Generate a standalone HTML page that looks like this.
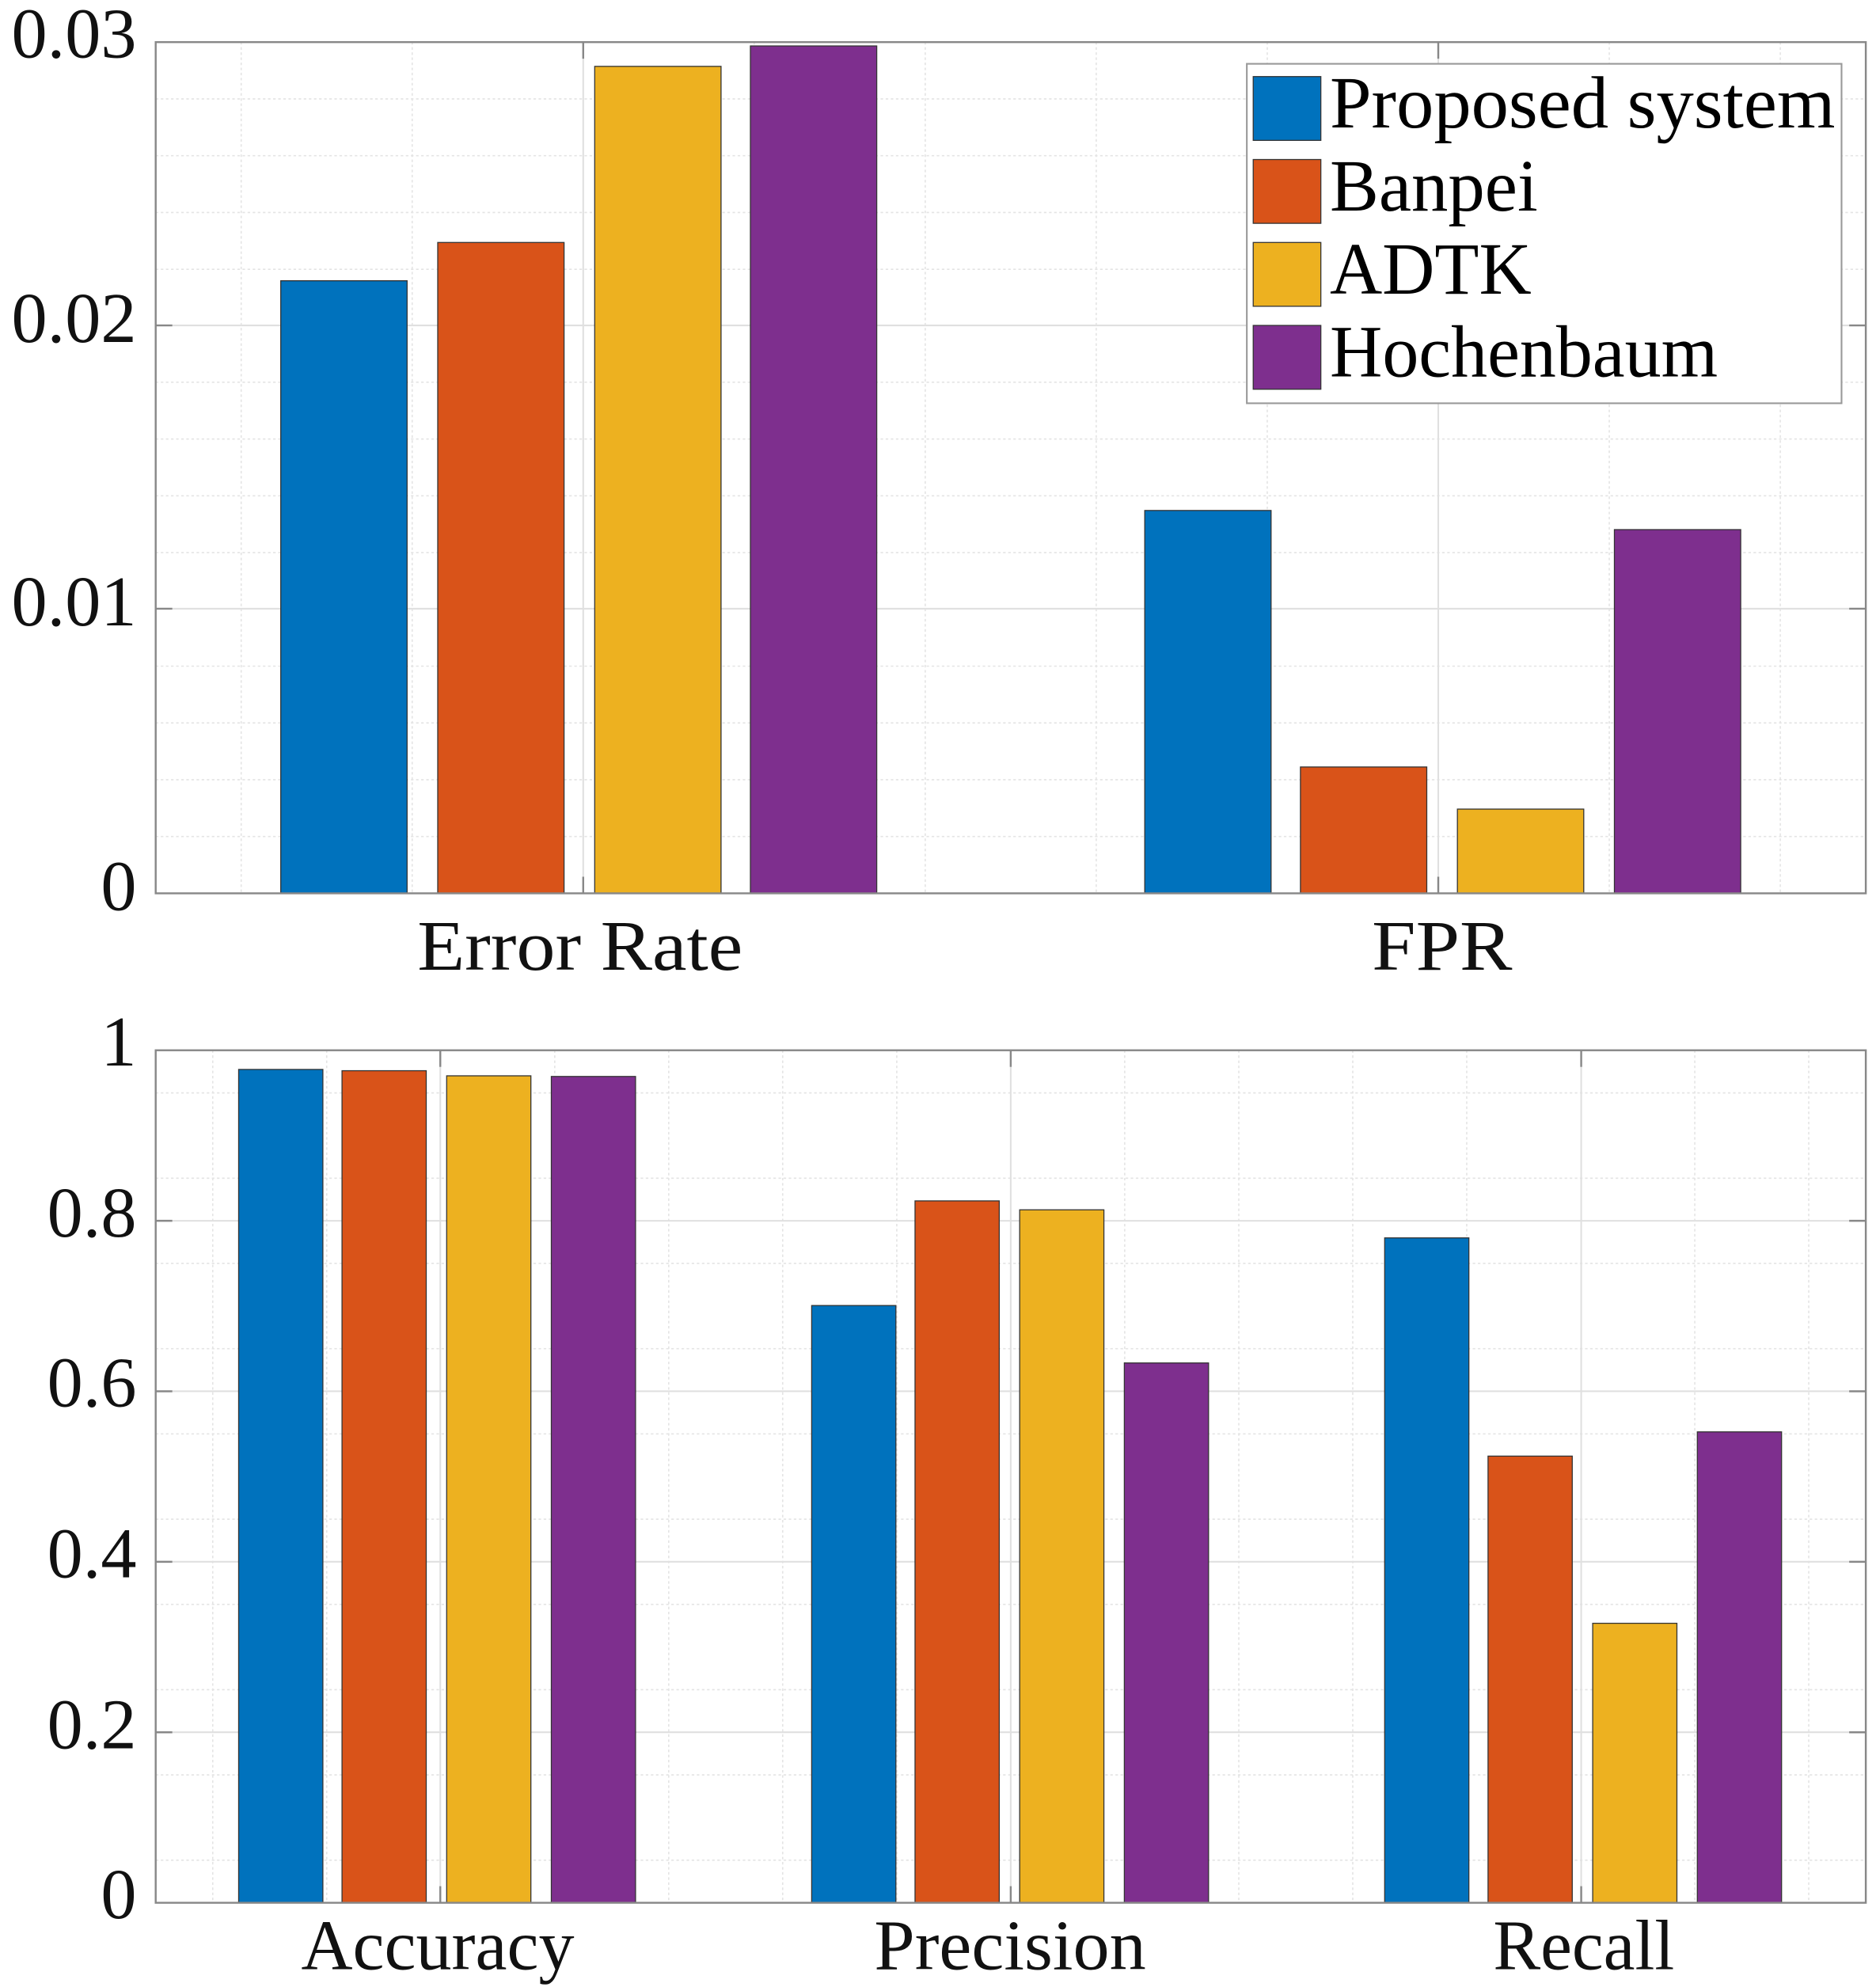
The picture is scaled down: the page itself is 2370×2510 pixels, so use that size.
<!DOCTYPE html>
<html><head><meta charset="utf-8"><style>html,body{margin:0;padding:0;background:#fff}svg{display:block}</style></head><body>
<svg width="2370" height="2510" viewBox="0 0 1470 1557" preserveAspectRatio="none" xmlns="http://www.w3.org/2000/svg" font-family="Liberation Serif, serif" fill="#111">
<rect width="1470" height="1557" fill="#fff"/>
<!-- TOP AXES -->
<g stroke="#e4e4e4" stroke-width="1" stroke-dasharray="2,2">
<line x1="122" y1="77.5" x2="1462" y2="77.5"/><line x1="122" y1="122" x2="1462" y2="122"/><line x1="122" y1="166.5" x2="1462" y2="166.5"/><line x1="122" y1="211" x2="1462" y2="211"/>
<line x1="122" y1="299.5" x2="1462" y2="299.5"/><line x1="122" y1="344" x2="1462" y2="344"/><line x1="122" y1="388.5" x2="1462" y2="388.5"/><line x1="122" y1="433" x2="1462" y2="433"/>
<line x1="122" y1="522" x2="1462" y2="522"/><line x1="122" y1="566.5" x2="1462" y2="566.5"/><line x1="122" y1="611" x2="1462" y2="611"/><line x1="122" y1="655.5" x2="1462" y2="655.5"/>
<line x1="189" y1="33" x2="189" y2="700"/><line x1="323" y1="33" x2="323" y2="700"/><line x1="591" y1="33" x2="591" y2="700"/><line x1="725" y1="33" x2="725" y2="700"/><line x1="859" y1="33" x2="859" y2="700"/><line x1="993" y1="33" x2="993" y2="700"/><line x1="1261" y1="33" x2="1261" y2="700"/><line x1="1395" y1="33" x2="1395" y2="700"/>
</g>
<g stroke="#e0e0e0" stroke-width="1.3">
<line x1="122" y1="255" x2="1462" y2="255"/><line x1="122" y1="477" x2="1462" y2="477"/>
<line x1="457" y1="33" x2="457" y2="700"/><line x1="1127" y1="33" x2="1127" y2="700"/>
</g>
<g stroke="#333" stroke-width="0.8">
<rect x="220" y="220" width="99" height="480" fill="#0072BD"/>
<rect x="343" y="190" width="99" height="510" fill="#D95319"/>
<rect x="466" y="52" width="99" height="648" fill="#EDB120"/>
<rect x="588" y="36" width="99" height="664" fill="#7E2F8E"/>
<rect x="897" y="400" width="99" height="300" fill="#0072BD"/>
<rect x="1019" y="601" width="99" height="99" fill="#D95319"/>
<rect x="1142" y="634" width="99" height="66" fill="#EDB120"/>
<rect x="1265" y="415" width="99" height="285" fill="#7E2F8E"/>
</g>
<g stroke="#888" stroke-width="1.5" fill="none">
<rect x="122" y="33" width="1340" height="667"/>
<line x1="122" y1="255" x2="135" y2="255"/><line x1="122" y1="477" x2="135" y2="477"/>
<line x1="1462" y1="255" x2="1449" y2="255"/><line x1="1462" y1="477" x2="1449" y2="477"/>
<line x1="457" y1="700" x2="457" y2="687"/><line x1="1127" y1="700" x2="1127" y2="687"/>
<line x1="457" y1="33" x2="457" y2="46"/><line x1="1127" y1="33" x2="1127" y2="46"/>
</g>
<g font-size="56" text-anchor="end">
<text x="107" y="45">0.03</text><text x="107" y="268">0.02</text><text x="107" y="490">0.01</text><text x="107" y="713">0</text>
</g>
<g font-size="56">
<text x="327" y="760" textLength="255" lengthAdjust="spacingAndGlyphs">Error Rate</text>
<text x="1075" y="760" textLength="110" lengthAdjust="spacingAndGlyphs">FPR</text>
</g>
<!-- legend -->
<rect x="977" y="50" width="466" height="266" fill="#fff" stroke="#999" stroke-width="1.3"/>
<g stroke="#333" stroke-width="0.8">
<rect x="982" y="60" width="53" height="50" fill="#0072BD"/>
<rect x="982" y="125" width="53" height="50" fill="#D95319"/>
<rect x="982" y="190" width="53" height="50" fill="#EDB120"/>
<rect x="982" y="255" width="53" height="50" fill="#7E2F8E"/>
</g>
<g font-size="58" fill="#000">
<text x="1042" y="100" textLength="396" lengthAdjust="spacingAndGlyphs">Proposed system</text>
<text x="1042" y="165" textLength="163" lengthAdjust="spacingAndGlyphs">Banpei</text>
<text x="1042" y="230" textLength="158" lengthAdjust="spacingAndGlyphs">ADTK</text>
<text x="1042" y="295" textLength="304" lengthAdjust="spacingAndGlyphs">Hochenbaum</text>
</g>
<!-- BOTTOM AXES -->
<g stroke="#e4e4e4" stroke-width="1" stroke-dasharray="2,2">
<line x1="122" y1="856.4" x2="1462" y2="856.4"/><line x1="122" y1="923.2" x2="1462" y2="923.2"/>
<line x1="122" y1="990" x2="1462" y2="990"/><line x1="122" y1="1056.8" x2="1462" y2="1056.8"/>
<line x1="122" y1="1123.6" x2="1462" y2="1123.6"/><line x1="122" y1="1190.4" x2="1462" y2="1190.4"/>
<line x1="122" y1="1257.2" x2="1462" y2="1257.2"/><line x1="122" y1="1324" x2="1462" y2="1324"/>
<line x1="122" y1="1390.8" x2="1462" y2="1390.8"/><line x1="122" y1="1457.6" x2="1462" y2="1457.6"/>
<line x1="166.7" y1="823" x2="166.7" y2="1491"/><line x1="256" y1="823" x2="256" y2="1491"/><line x1="434.7" y1="823" x2="434.7" y2="1491"/><line x1="524" y1="823" x2="524" y2="1491"/><line x1="613.3" y1="823" x2="613.3" y2="1491"/><line x1="702.7" y1="823" x2="702.7" y2="1491"/><line x1="881.3" y1="823" x2="881.3" y2="1491"/><line x1="970.7" y1="823" x2="970.7" y2="1491"/><line x1="1060" y1="823" x2="1060" y2="1491"/><line x1="1149.3" y1="823" x2="1149.3" y2="1491"/><line x1="1328" y1="823" x2="1328" y2="1491"/><line x1="1417.3" y1="823" x2="1417.3" y2="1491"/>
</g>
<g stroke="#e0e0e0" stroke-width="1.3">
<line x1="122" y1="956.6" x2="1462" y2="956.6"/><line x1="122" y1="1090.2" x2="1462" y2="1090.2"/><line x1="122" y1="1223.8" x2="1462" y2="1223.8"/><line x1="122" y1="1357.4" x2="1462" y2="1357.4"/>
<line x1="345" y1="823" x2="345" y2="1491"/><line x1="792" y1="823" x2="792" y2="1491"/><line x1="1239" y1="823" x2="1239" y2="1491"/>
</g>
<g stroke="#333" stroke-width="0.8">
<rect x="187" y="838" width="66" height="653" fill="#0072BD"/>
<rect x="268" y="839" width="66" height="652" fill="#D95319"/>
<rect x="350" y="843" width="66" height="648" fill="#EDB120"/>
<rect x="432" y="843.5" width="66" height="647.5" fill="#7E2F8E"/>
<rect x="636" y="1023" width="66" height="468" fill="#0072BD"/>
<rect x="717" y="941" width="66" height="550" fill="#D95319"/>
<rect x="799" y="948" width="66" height="543" fill="#EDB120"/>
<rect x="881" y="1068" width="66" height="423" fill="#7E2F8E"/>
<rect x="1085" y="970" width="66" height="521" fill="#0072BD"/>
<rect x="1166" y="1141" width="66" height="350" fill="#D95319"/>
<rect x="1248" y="1272" width="66" height="219" fill="#EDB120"/>
<rect x="1330" y="1122" width="66" height="369" fill="#7E2F8E"/>
</g>
<g stroke="#888" stroke-width="1.5" fill="none">
<rect x="122" y="823" width="1340" height="668"/>
<line x1="122" y1="956.6" x2="135" y2="956.6"/><line x1="122" y1="1090.2" x2="135" y2="1090.2"/><line x1="122" y1="1223.8" x2="135" y2="1223.8"/><line x1="122" y1="1357.4" x2="135" y2="1357.4"/>
<line x1="1462" y1="956.6" x2="1449" y2="956.6"/><line x1="1462" y1="1090.2" x2="1449" y2="1090.2"/><line x1="1462" y1="1223.8" x2="1449" y2="1223.8"/><line x1="1462" y1="1357.4" x2="1449" y2="1357.4"/>
<line x1="345" y1="1491" x2="345" y2="1478"/><line x1="792" y1="1491" x2="792" y2="1478"/><line x1="1239" y1="1491" x2="1239" y2="1478"/>
<line x1="345" y1="823" x2="345" y2="836"/><line x1="792" y1="823" x2="792" y2="836"/><line x1="1239" y1="823" x2="1239" y2="836"/>
</g>
<g font-size="56" text-anchor="end">
<text x="107" y="835">1</text><text x="107" y="969">0.8</text><text x="107" y="1102">0.6</text><text x="107" y="1236">0.4</text><text x="107" y="1370">0.2</text><text x="107" y="1503">0</text>
</g>
<g font-size="56">
<text x="236" y="1543" textLength="214" lengthAdjust="spacingAndGlyphs">Accuracy</text>
<text x="685" y="1543" textLength="213" lengthAdjust="spacingAndGlyphs">Precision</text>
<text x="1170" y="1543" textLength="142" lengthAdjust="spacingAndGlyphs">Recall</text>
</g>
</svg>
</body></html>
